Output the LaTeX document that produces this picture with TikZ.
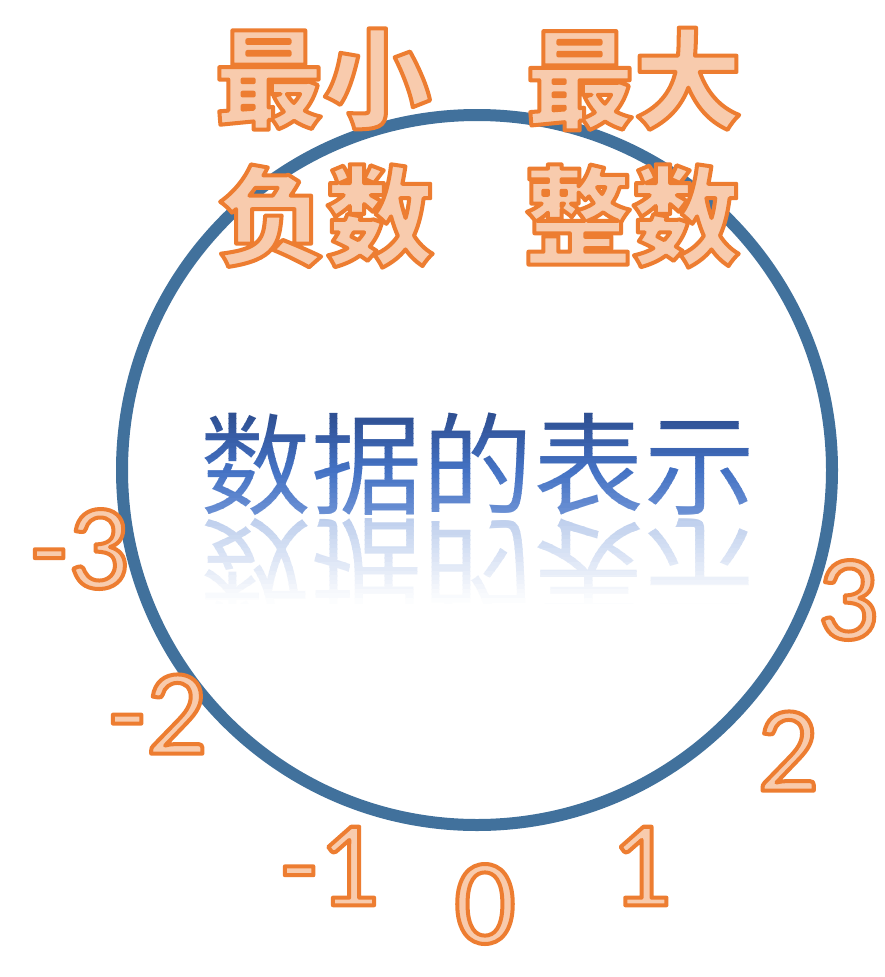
\documentclass[tikz,border=0pt]{standalone}
\usepackage{fontspec}
\newfontfamily\cjk{Noto Sans CJK SC}
\newfontfamily\numf{Carlito}
\definecolor{ringblue}{HTML}{41719C}
\definecolor{oline}{HTML}{ED7D31}
\definecolor{ofill}{HTML}{F8CBAD}
\definecolor{navy}{HTML}{2B4A8A}
\definecolor{midblue}{HTML}{4472C4}
\definecolor{lightblue}{HTML}{7B9DDA}
\tikzset{
  otext/.style={inner sep=0pt, font=\cjk\bfseries\fontsize{108}{108}\selectfont},
  onum/.style={inner sep=0pt, font=\numf\fontsize{122}{122}\selectfont},
  ttext/.style={inner sep=0pt, font=\cjk\fontsize{111}{111}\selectfont},
  ring/.style={circle, draw=ringblue, line width=12pt, minimum size=710pt, inner sep=0pt},
}
% outlined text: #1 name, #2 style, #3 position, #4 text
\newcommand\outl[4]{%
  \node[#2, text=ofill] (#1) at (#3)
    {\special{pdf:literal direct 0.929 0.490 0.192 RG 4 w 1 j 2 Tr}#4\special{pdf:literal direct 0 Tr}};
}
\begin{document}
\begin{tikzpicture}[x=1pt,y=-1pt]
\fill[white] (0,0) rectangle (885,977);
\useasboundingbox (0,0) rectangle (885,977);
\node[ring] (circ) at (477,470) {};
% title with vertical gradient
\foreach \i in {0,...,25}{
  \pgfmathsetmacro\yt{403+5*\i}
  \ifnum\i<13
    \pgfmathtruncatemacro\p{\i/13*100}
    \colorlet{bandc}{midblue!\p!navy}
  \else
    \pgfmathtruncatemacro\p{(\i-13)/12*100}
    \colorlet{bandc}{lightblue!\p!midblue}
  \fi
  \begin{scope}
    \clip (150,\yt) rectangle (810,\yt+5.4);
    \node[ttext, text=bandc] (title\i) at (478,464) {数据的表示};
  \end{scope}
}
% reflection (opaque bands mixed with white)
\foreach \i in {0,...,18}{
  \pgfmathsetmacro\yt{517+4.5*\i}
  \pgfmathtruncatemacro\p{50*(1-\i/19)}
  \colorlet{reflc}{lightblue!\p!white}
  \begin{scope}
    \clip (150,\yt) rectangle (810,\yt+5);
    \node[ttext, text=reflc, yscale=-1, transform shape] (refl\i) at (478,570) {数据的表示};
  \end{scope}
}
% top labels
\outl{tl1}{otext}{323,79}{最小}
\outl{tr1}{otext}{634,79}{最大}
\outl{tl2}{otext}{326,216}{负数}
\outl{tr2}{otext}{632,216}{整数}
% numbers
\outl{nm3}{onum}{80,549}{-3}
\outl{nm2}{onum}{158,714}{-2}
\outl{nm1}{onum}{330,866}{-1}
\outl{n0}{onum}{485,904}{0}
\outl{n1}{onum}{641,866}{1}
\outl{n2}{onum}{788,751}{2}
\outl{n3}{onum}{848,600}{3}
\end{tikzpicture}
\end{document}
